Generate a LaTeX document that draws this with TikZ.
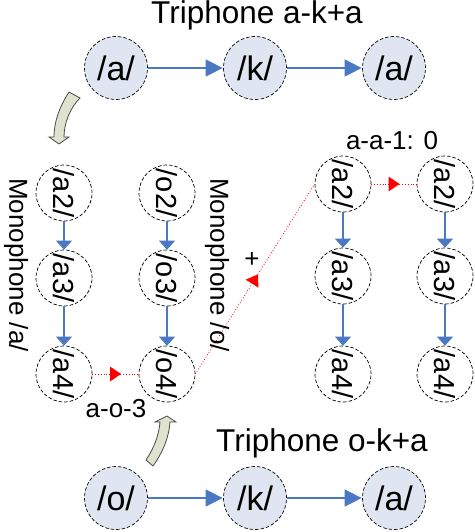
\documentclass[tikz,border=0pt]{standalone}
\usepackage{fontspec}
\setmainfont{Liberation Sans}
\usetikzlibrary{arrows.meta,decorations.markings}
\definecolor{cfill}{HTML}{DFE6F1}
\definecolor{cblue}{HTML}{4A78C2}
\definecolor{cred}{HTML}{FF0000}
\definecolor{cbend}{HTML}{DFE2CD}
\definecolor{cbendline}{HTML}{4A4A4A}
\tikzset{
  bigstate/.style={circle,draw=black,dashed,dash pattern=on 3.5pt off 2pt,line width=0.7pt,fill=cfill,minimum size=63pt,inner sep=0pt,font=\fontsize{34}{40}\selectfont},
  smallstate/.style={circle,draw=black,dashed,dash pattern=on 3.5pt off 2pt,line width=0.7pt,fill=white,minimum size=56pt,inner sep=0pt,font=\fontsize{29}{34}\selectfont},
  hlink/.style={draw=cblue,line width=1.2pt,-{Triangle[length=17pt,width=17pt]},shorten >=0.5pt},
  vlink/.style={draw=cblue,line width=1.2pt,-{Triangle[length=9pt,width=16pt]}},
  redlink/.style={draw=cred,line width=0.8pt,dotted,postaction={decorate},
    decoration={markings,mark=at position 0.5 with {\fill[cred] (5.5pt,0) -- (-5.5pt,7.5pt) -- (-5.5pt,-7.5pt) -- cycle;}}},
  title/.style={font=\fontsize{31.5}{38}\selectfont,anchor=base},
  lbl/.style={font=\fontsize{26}{30}\selectfont,anchor=base},
  mono/.style={font=\fontsize{26}{30}\selectfont,rotate=-90},
  bendarrow/.style={fill=cbend,draw=cbendline,line width=0.8pt,line join=miter}
}
\begin{document}
\begin{tikzpicture}[x=1pt,y=-1pt]
\useasboundingbox (0,0) rectangle (474,532);
% titles
\node[title] (tt) at (257,24) {Triphone a-k+a};
\node[title] (bt) at (322,451) {Triphone o-k+a};
% top row
\node[bigstate] (t1) at (116,68) {/a/};
\node[bigstate] (t2) at (255,68) {/k/};
\node[bigstate] (t3) at (394,68) {/a/};
\draw[hlink] (t1) -- (t2);
\draw[hlink] (t2) -- (t3);
% bottom row
\node[bigstate] (b1) at (116,498) {/o/};
\node[bigstate] (b2) at (255,498) {/k/};
\node[bigstate] (b3) at (394,498) {/a/};
\draw[hlink] (b1) -- (b2);
\draw[hlink] (b2) -- (b3);
% left monophones
\node[smallstate] (a2) at (64,193) {\rotatebox{-90}{/a2/}};
\node[smallstate] (a3) at (64,278) {\rotatebox{-90}{/a3/}};
\node[smallstate] (a4) at (64,374) {\rotatebox{-90}{/a4/}};
\node[smallstate] (o2) at (167,193) {\rotatebox{-90}{/o2/}};
\node[smallstate] (o3) at (167,278) {\rotatebox{-90}{/o3/}};
\node[smallstate] (o4) at (167,374) {\rotatebox{-90}{/o4/}};
\draw[vlink] (a2) -- (a3);
\draw[vlink] (a3) -- (a4);
\draw[vlink] (o2) -- (o3);
\draw[vlink] (o3) -- (o4);
% right monophones
\node[smallstate] (p2) at (343,184) {\rotatebox{-90}{/a2/}};
\node[smallstate] (p3) at (343,276) {\rotatebox{-90}{/a3/}};
\node[smallstate] (p4) at (343,374) {\rotatebox{-90}{/a4/}};
\node[smallstate] (q2) at (445,184) {\rotatebox{-90}{/a2/}};
\node[smallstate] (q3) at (445,276) {\rotatebox{-90}{/a3/}};
\node[smallstate] (q4) at (445,374) {\rotatebox{-90}{/a4/}};
\draw[vlink] (p2) -- (p3);
\draw[vlink] (p3) -- (p4);
\draw[vlink] (q2) -- (q3);
\draw[vlink] (q3) -- (q4);
% red tee links
\draw[redlink] (a4.east) -- (o4.west);
\draw[redlink] (o4.east) -- (p2.west);
\draw[redlink] (p2.east) -- (q2.west);
% labels
\node[mono] (ma) at (16,265) {Monophone /a/};
\node[mono] (mo) at (217,265) {Monophone /o/};
\node[lbl] (plus) at (252,267) {+};
\node[lbl] (aa1) at (392,149) {a-a-1: 0};
\node[lbl] (ao3) at (116,417) {a-o-3};
% curved block arrows
\draw[bendarrow] (69,92) .. controls (60,106) and (54,121) .. (54,137) -- (49,137) -- (59,144) -- (69,137) -- (64,137) .. controls (64,123) and (70,108) .. (80,98) -- cycle;
\draw[bendarrow] (146,460) .. controls (154,448) and (159,435) .. (160,422) -- (155,422) -- (167,416) -- (176,422) -- (170,422) .. controls (169,437) and (163,452) .. (153,466) -- cycle;
\end{tikzpicture}
\end{document}
